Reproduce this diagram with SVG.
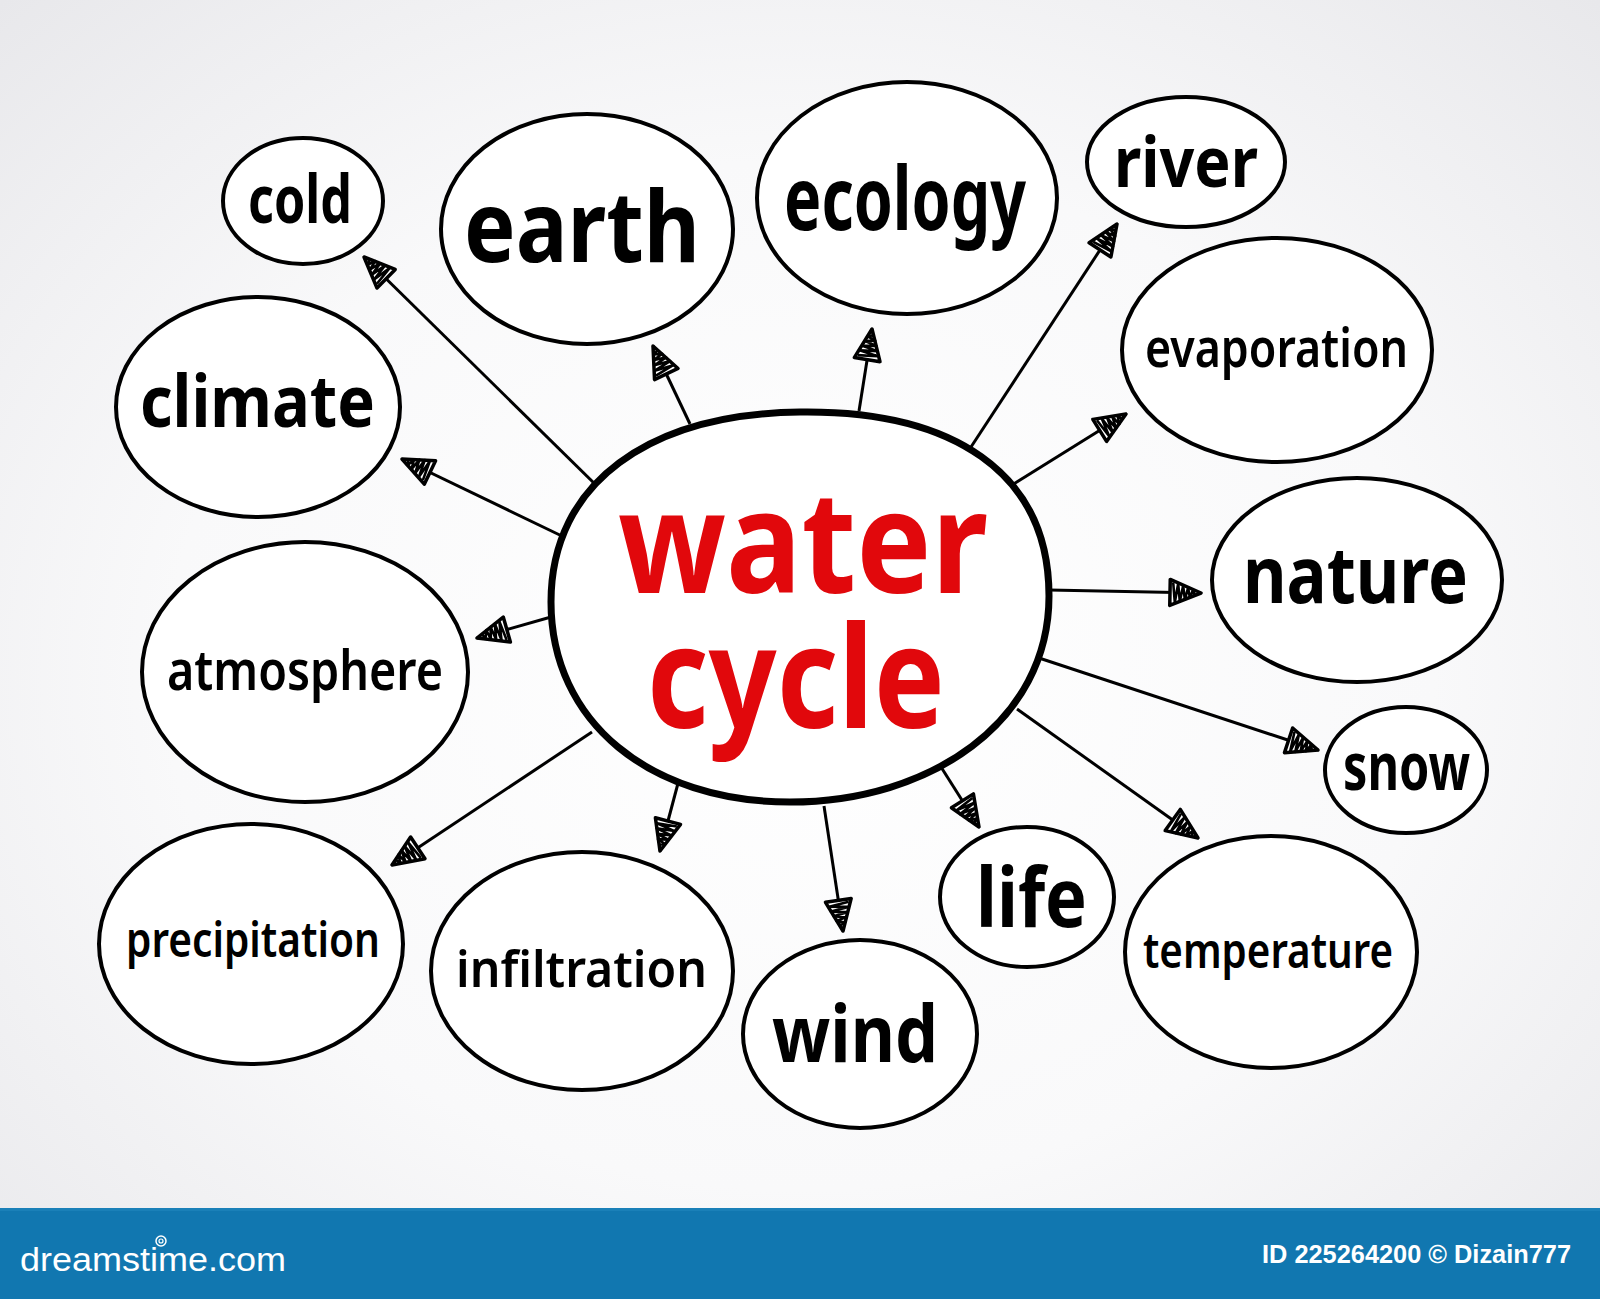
<svg xmlns="http://www.w3.org/2000/svg" width="1600" height="1299" viewBox="0 0 1600 1299">
<defs>
<radialGradient id="bg" cx="50%" cy="52%" r="72%">
<stop offset="0" stop-color="#ffffff"/>
<stop offset="0.55" stop-color="#f9f9fa"/>
<stop offset="1" stop-color="#e8e8eb"/>
</radialGradient>
<marker id="ah" viewBox="0 0 36 32" refX="34" refY="16" markerWidth="36" markerHeight="32" markerUnits="userSpaceOnUse" orient="auto">
<path d="M3,3 L34,16 L3,29 Z" fill="#fff" stroke="#000" stroke-width="3.5" stroke-linejoin="round"/>
<path d="M6,6 L8,26 L11,7 L13,25 L16,9 L18,23 L21,11 L23,21 L26,13 L28,18" fill="none" stroke="#000" stroke-width="2.6" stroke-linejoin="round"/>
</marker>
<style>
.n{fill:#fff;stroke:#000;stroke-width:4}
.c{fill:#fff;stroke:#000;stroke-width:7}
.t{font-family:"Noto Sans","DejaVu Sans",sans-serif;font-weight:700;fill:#000}
.s{font-family:"Noto Sans","DejaVu Sans",sans-serif;font-weight:600;fill:#000}
.r{font-family:"Noto Sans","DejaVu Sans",sans-serif;font-weight:700;fill:#e1080c}
.k{stroke:#000;stroke-width:3;fill:none;marker-end:url(#ah)}
.w{font-family:"Liberation Sans","DejaVu Sans",sans-serif;fill:#fff}
</style>
</defs>
<rect x="0" y="0" width="1600" height="1299" fill="url(#bg)"/>

<g id="connectors">
<line class="k" x1="599" y1="488" x2="364" y2="257"/>
<line class="k" x1="690" y1="424" x2="653" y2="346"/>
<line class="k" x1="859" y1="411" x2="872" y2="329"/>
<line class="k" x1="971" y1="447" x2="1117" y2="224"/>
<line class="k" x1="1012" y1="485" x2="1126" y2="414"/>
<line class="k" x1="1049" y1="590" x2="1201" y2="593"/>
<line class="k" x1="1039" y1="658" x2="1318" y2="750"/>
<line class="k" x1="1017" y1="709" x2="1198" y2="838"/>
<line class="k" x1="941" y1="767" x2="979" y2="827"/>
<line class="k" x1="824" y1="806" x2="843" y2="931"/>
<line class="k" x1="681" y1="772" x2="660" y2="851"/>
<line class="k" x1="592" y1="732" x2="392" y2="865"/>
<line class="k" x1="551" y1="617" x2="477" y2="638"/>
<line class="k" x1="566" y1="538" x2="402" y2="459"/>
</g>

<g id="node-center">
<path class="c" d="M800,412 C952,410 1049,472 1049,596 C1049,722 930,802 790,802 C650,802 551,722 551,602 C551,482 650,414 800,412 Z"/>
<text class="r" font-size="142"><tspan x="618" y="593" textLength="370" lengthAdjust="spacingAndGlyphs">water</tspan><tspan x="647" y="728" textLength="298" lengthAdjust="spacingAndGlyphs">cycle</tspan></text>
</g>

<g id="node-cold">
<ellipse class="n" cx="303" cy="201" rx="80" ry="63"/>
<text class="t" x="248" y="223" font-size="66" textLength="104" lengthAdjust="spacingAndGlyphs">cold</text>
</g>
<g id="node-earth">
<ellipse class="n" cx="587" cy="229" rx="146" ry="115"/>
<text class="t" x="464" y="262" font-size="98" textLength="236" lengthAdjust="spacingAndGlyphs">earth</text>
</g>
<g id="node-ecology">
<ellipse class="n" cx="907" cy="198" rx="150" ry="116"/>
<text class="t" x="784" y="230" font-size="88" textLength="242" lengthAdjust="spacingAndGlyphs">ecology</text>
</g>
<g id="node-river">
<ellipse class="n" cx="1186" cy="162" rx="99" ry="65"/>
<text class="t" x="1114" y="187" font-size="70" textLength="144" lengthAdjust="spacingAndGlyphs">river</text>
</g>
<g id="node-evaporation">
<ellipse class="n" cx="1277" cy="350" rx="155" ry="112"/>
<text class="s" x="1145" y="367" font-size="54" textLength="263" lengthAdjust="spacingAndGlyphs">evaporation</text>
</g>
<g id="node-nature">
<ellipse class="n" cx="1357" cy="580" rx="145" ry="102"/>
<text class="t" x="1243" y="603" font-size="78" textLength="225" lengthAdjust="spacingAndGlyphs">nature</text>
</g>
<g id="node-snow">
<ellipse class="n" cx="1406" cy="770" rx="81" ry="63"/>
<text class="t" x="1343" y="790" font-size="66" textLength="127" lengthAdjust="spacingAndGlyphs">snow</text>
</g>
<g id="node-temperature">
<ellipse class="n" cx="1271" cy="952" rx="146" ry="116"/>
<text class="s" x="1143" y="968" font-size="48" textLength="250" lengthAdjust="spacingAndGlyphs">temperature</text>
</g>
<g id="node-life">
<ellipse class="n" cx="1027" cy="897" rx="87" ry="70"/>
<text class="t" x="976" y="927" font-size="82" textLength="111" lengthAdjust="spacingAndGlyphs">life</text>
</g>
<g id="node-wind">
<ellipse class="n" cx="860" cy="1034" rx="117" ry="94"/>
<text class="t" x="772" y="1062" font-size="78" textLength="166" lengthAdjust="spacingAndGlyphs">wind</text>
</g>
<g id="node-infiltration">
<ellipse class="n" cx="582" cy="971" rx="151" ry="119"/>
<text class="s" x="456" y="987" font-size="50" textLength="251" lengthAdjust="spacingAndGlyphs">infiltration</text>
</g>
<g id="node-precipitation">
<ellipse class="n" cx="251" cy="944" rx="152" ry="120"/>
<text class="s" x="126" y="957" font-size="48" textLength="254" lengthAdjust="spacingAndGlyphs">precipitation</text>
</g>
<g id="node-atmosphere">
<ellipse class="n" cx="305" cy="672" rx="163" ry="130"/>
<text class="s" x="167" y="690" font-size="56" textLength="276" lengthAdjust="spacingAndGlyphs">atmosphere</text>
</g>
<g id="node-climate">
<ellipse class="n" cx="258" cy="407" rx="142" ry="110"/>
<text class="t" x="140" y="427" font-size="72" textLength="235" lengthAdjust="spacingAndGlyphs">climate</text>
</g>

<g id="footer">
<rect x="0" y="1208" width="1600" height="91" fill="#1177b0"/>
<rect x="0" y="1208" width="1600" height="3" fill="#1a80b8"/>
<text class="w" x="20" y="1271" font-size="34" textLength="266" lengthAdjust="spacingAndGlyphs">dreamstime.com</text>
<circle cx="161" cy="1241" r="5" fill="none" stroke="#fff" stroke-width="1.5"/>
<circle cx="161" cy="1241" r="2" fill="none" stroke="#fff" stroke-width="1.2"/>
<text class="w" x="1262" y="1263" font-size="25" font-weight="700" textLength="309" lengthAdjust="spacingAndGlyphs">ID 225264200 © Dizain777</text>
</g>
</svg>
